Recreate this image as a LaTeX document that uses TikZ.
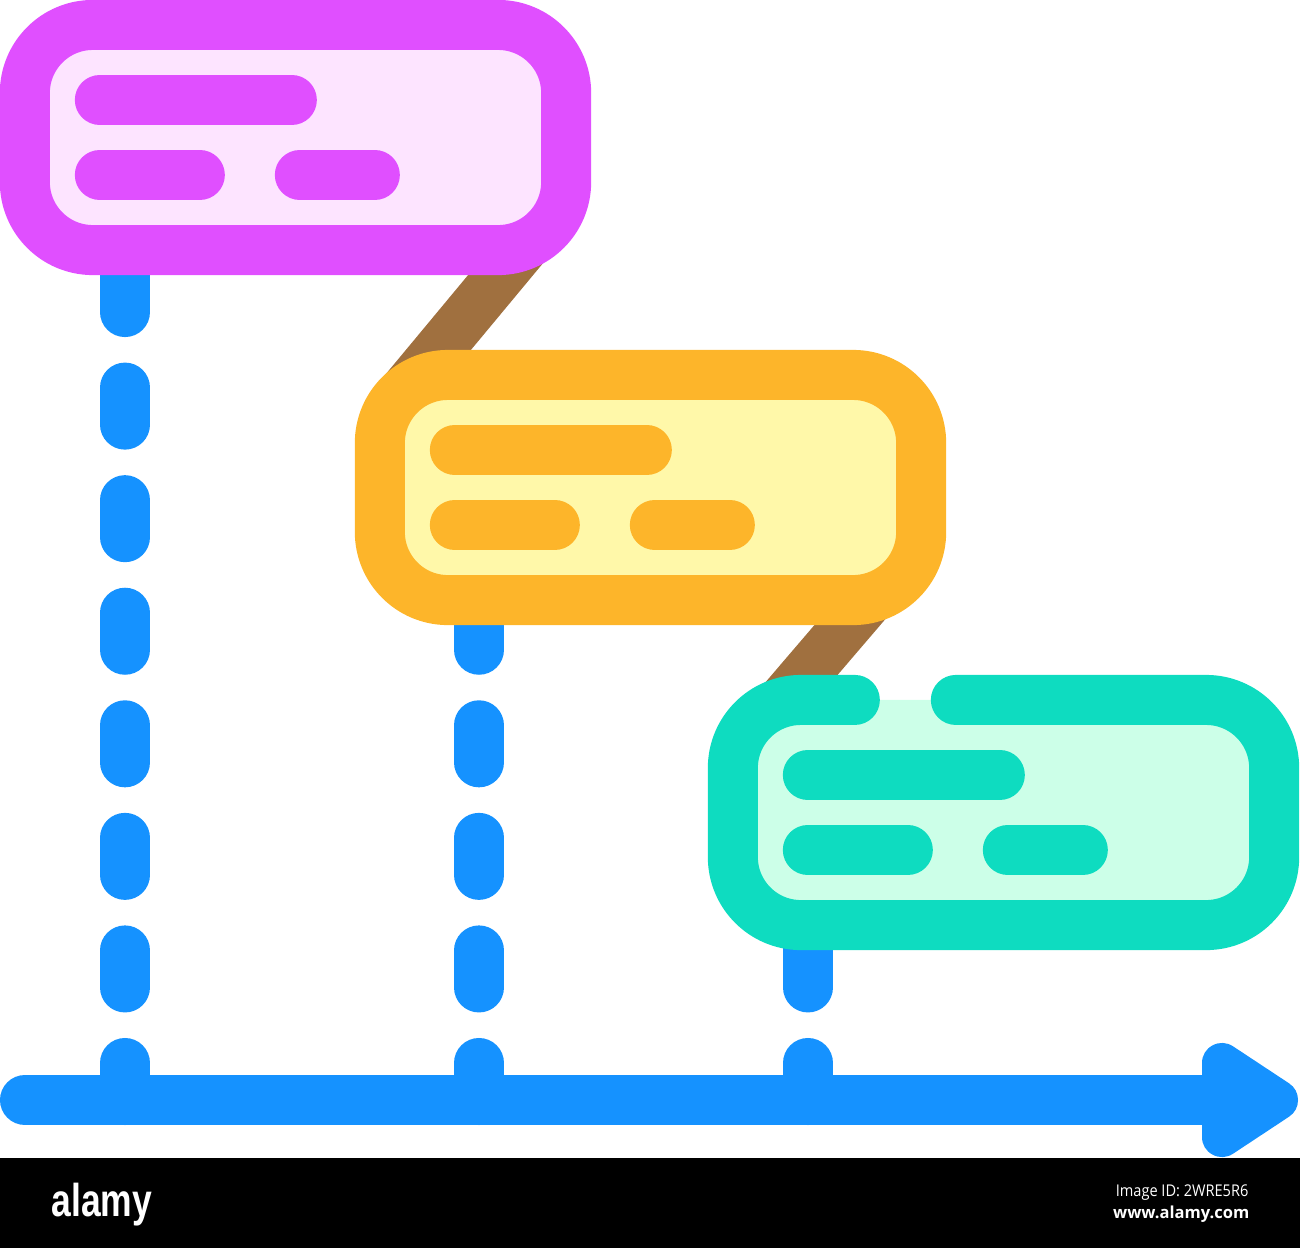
\documentclass[tikz,border=0pt]{standalone}
\usepackage{fontspec}
\setmainfont{Liberation Sans}
\newfontfamily\idfont{Open Sans}
\usetikzlibrary{backgrounds}

\definecolor{axisblue}{HTML}{1592FF}
\definecolor{planpurple}{HTML}{E04FFF}
\definecolor{planpink}{HTML}{FDE4FF}
\definecolor{planorange}{HTML}{FDB52A}
\definecolor{planyellow}{HTML}{FFF8A9}
\definecolor{planteal}{HTML}{0EDCC0}
\definecolor{planmint}{HTML}{CCFFE8}
\definecolor{linkbrown}{HTML}{A0703F}

\tikzset{
  stage/.style={rectangle, rounded corners=0.68cm, line width=0.5cm,
    minimum width=5.41cm, minimum height=2.25cm, inner sep=0pt, outer sep=0pt},
  bar/.style={line width=0.5cm, line cap=round},
  guide/.style={axisblue, line width=0.5cm, line cap=round,
    dash pattern=on 0.37cm off 0.755cm},
  link/.style={linkbrown, line width=0.5cm},
}

\begin{document}
\begin{tikzpicture}[x=0.01cm, y=-0.01cm]
\useasboundingbox (0,0) rectangle (1300,1248);

% the three stages
\node[stage, draw=planpurple, fill=planpink] (s1) at (295.5,137.5) {};
\node[stage, draw=planorange, fill=planyellow] (s2) at (650.5,487.5) {};
\node[stage, fill=planmint] (s3) at (1003.5,812.5) {};
% last one has a gap in its top edge
\draw[planteal, line width=0.5cm, line cap=round, rounded corners=0.68cm]
  ([shift={(223,0)}]s3.north west) -- (s3.north east) -- (s3.south east)
  -- (s3.south west) -- (s3.north west) -- ([shift={(122,0)}]s3.north west);

% text lines inside the stages
\foreach \st/\cl in {s1/planpurple, s2/planorange, s3/planteal}
{
  \draw[bar, \cl] ([shift={(75,75)}]\st.north west) -- ++(192,0);
  \draw[bar, \cl] ([shift={(75,150)}]\st.north west) -- ++(100,0);
  \draw[bar, \cl] ([shift={(275,150)}]\st.north west) -- ++(75,0);
}

% time axis
\coordinate (o) at (25,1100);
\coordinate (e) at (1222,1100);
\foreach \i/\x in {1/125, 2/479, 3/808}
  \coordinate (t\i) at (\x,1100);
\draw[axisblue, line width=0.5cm, line cap=round] (o) -- (e);
\filldraw[axisblue, line width=0.4cm, line join=round]
  ([shift={(0,-37)}]e) -- ([shift={(56,0)}]e) -- ([shift={(0,37)}]e) -- cycle;

% guides and links go behind the stages
\begin{scope}[on background layer]
  \draw[guide] (t1) -- (t1 |- s1.south);
  \draw[guide] (t2) -- (t2 |- s2.south);
  \draw[guide] (t3) -- (t3 |- s3.south);
  \draw[link] ([shift={(-24,-25)}]s1.south east) -- ([shift={(17,25)}]s2.north west);
  \draw[link] ([shift={(-31,-25)}]s2.south east) -- ([shift={(29,25)}]s3.north west);
\end{scope}

% footer strip
\fill[black] (0,1158) rectangle (1300,1248);
\node[text=white, font=\bfseries\fontsize{13.1pt}{14pt}\selectfont, xscale=0.77,
  anchor=base west, inner sep=0pt] (logo) at (51,1216) {alamy};
\node[text=white, font=\idfont\fontsize{4.6pt}{5pt}\selectfont, xscale=0.9,
  anchor=base east, inner sep=0pt] (imgid) at (1249,1196) {Image ID: 2WRE5R6};
\node[text=white, font=\idfont\bfseries\fontsize{4.7pt}{5pt}\selectfont,
  anchor=base east, inner sep=0pt] (site) at (1250,1218) {www.alamy.com};
\end{tikzpicture}
\end{document}
